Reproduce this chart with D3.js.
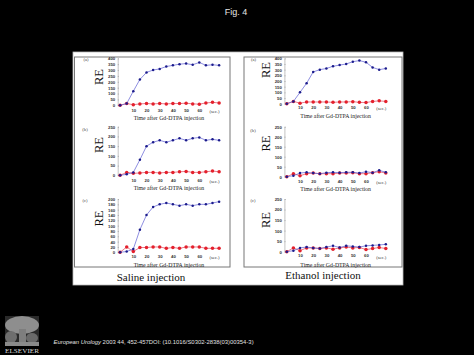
<!DOCTYPE html>
<html>
<head>
<meta charset="utf-8">
<script src="https://cdn.jsdelivr.net/npm/d3@7"></script>
<style>
  html, body { margin: 0; padding: 0; background: #000; }
  svg { display: block; }
</style>
</head>
<body>
<svg id="chart" width="474" height="355"></svg>
<script>
// ---------------- DATA ----------------
const timeSec = [0, 5, 10, 15, 20, 25, 30, 35, 40, 45, 50, 55, 60, 65, 70, 75];
const xTickLabels = [10, 20, 30, 40, 50, 60];
const ticks400 = [0, 50, 100, 150, 200, 250, 300, 350, 400];
const ticks250 = [0, 50, 100, 150, 200, 250];
const ticks200 = [0, 20, 40, 60, 80, 100, 120, 140, 160, 180, 200];
const panelTitles = ["Saline  injection", "Ethanol injection"];
const subplotLetters = ["(a)", "(b)", "(c)"];

// Saline injection
const salineA_blue = [0, 15, 120, 220, 280, 300, 310, 330, 340, 350, 355, 345, 365, 340, 345, 340];
const salineA_red  = [0, 15, 5, 12, 15, 12, 15, 12, 15, 15, 18, 12, 10, 20, 25, 20];
const salineB_blue = [0, 5, 15, 80, 150, 170, 180, 170, 180, 190, 180, 190, 195, 180, 185, 180];
const salineB_red  = [0, 15, 10, 12, 15, 15, 12, 15, 15, 18, 20, 15, 15, 18, 22, 18];
const salineC_blue = [0, 3, 12, 85, 140, 170, 180, 185, 180, 175, 180, 175, 180, 180, 185, 190];
const salineC_red  = [0, 20, 3, 18, 18, 20, 20, 15, 18, 15, 20, 20, 20, 15, 15, 15];
// Ethanol injection
const ethanolA_blue = [0, 20, 100, 180, 280, 300, 310, 330, 340, 350, 370, 380, 365, 320, 300, 310];
const ethanolA_red  = [0, 20, 5, 15, 15, 15, 15, 12, 15, 15, 18, 12, 10, 20, 25, 20];
const ethanolB_blue = [0, 5, 18, 22, 18, 15, 20, 22, 20, 22, 22, 18, 25, 20, 32, 22];
const ethanolB_red  = [0, 15, 5, 15, 18, 15, 15, 15, 18, 18, 20, 15, 15, 20, 25, 18];
const ethanolC_blue = [0, 5, 18, 22, 18, 15, 22, 28, 20, 28, 25, 22, 28, 30, 32, 35];
const ethanolC_red  = [0, 18, 5, 18, 18, 15, 18, 12, 18, 22, 18, 20, 10, 15, 20, 15];

// ---------------- LAYOUT ----------------
const svg = d3.select("#chart");
const serif = "'Liberation Serif', 'Times New Roman', serif";
const sans = "'Liberation Sans', Arial, sans-serif";

// title
svg.append("text").attr("x", 236).attr("y", 15).attr("text-anchor", "middle")
  .attr("fill", "#e6e6e6").attr("font-family", sans).attr("font-size", 9).text("Fig. 4");

// outer white figure box
svg.append("rect").attr("x", 73).attr("y", 52).attr("width", 330).attr("height", 233)
  .attr("fill", "#fff").attr("stroke", "#bbb").attr("stroke-width", 0.8);

// two panels
const panels = [
  { x: 74.5, w: 155.5 },
  { x: 244, w: 158 }
];
panels.forEach(p => {
  svg.append("rect").attr("x", p.x).attr("y", 57).attr("width", p.w).attr("height", 210)
    .attr("fill", "#fff").attr("stroke", "#777").attr("stroke-width", 1);
});
svg.append("text").attr("x", 151).attr("y", 281).attr("text-anchor", "middle")
  .attr("font-family", serif).attr("font-size", 11).attr("fill", "#111").text(panelTitles[0]);
svg.append("text").attr("x", 323).attr("y", 279).attr("text-anchor", "middle")
  .attr("font-family", serif).attr("font-size", 11).attr("fill", "#111").text(panelTitles[1]);

const subplots = [
  { x0: 120.1, y0: 105.3, yTop: 58.3, ticks: ticks400, blue: salineA_blue, red: salineA_red,
    xTickY: 112, xLabelY: 118, re: [98.5, 77], letter: [86, 60.5], li: 0 },
  { x0: 120.1, y0: 175.3, yTop: 126.7, ticks: ticks250, blue: salineB_blue, red: salineB_red,
    xTickY: 182, xLabelY: 188, re: [98.5, 145], letter: [85, 131], li: 1 },
  { x0: 120.1, y0: 252.3, yTop: 199, ticks: ticks200, blue: salineC_blue, red: salineC_red,
    xTickY: 258, xLabelY: 265, re: [98.5, 218.5], letter: [85, 202], li: 2 },
  { x0: 286.8, y0: 103.7, yTop: 58.3, ticks: ticks400, blue: ethanolA_blue, red: ethanolA_red,
    xTickY: 108.7, xLabelY: 116, re: [265.5, 70], letter: [253.5, 60.5], li: 0 },
  { x0: 286.8, y0: 176.7, yTop: 126.7, ticks: ticks250, blue: ethanolB_blue, red: ethanolB_red,
    xTickY: 182.7, xLabelY: 188.5, re: [265.5, 143.5], letter: [253, 132], li: 1 },
  { x0: 286.8, y0: 251.7, yTop: 199, ticks: ticks250, blue: ethanolC_blue, red: ethanolC_red,
    xTickY: 257.4, xLabelY: 264.5, re: [265.5, 220], letter: [253, 202], li: 2 }
];

const pxPerSec = 1.32;

subplots.forEach(sp => {
  const g = svg.append("g");
  const x = d3.scaleLinear().domain([0, 75]).range([sp.x0, sp.x0 + 75 * pxPerSec]);
  const yMax = d3.max(sp.ticks);
  const y = d3.scaleLinear().domain([0, yMax]).range([sp.y0, sp.yTop]);
  const axisX = sp.x0 - 2.4;

  // y axis
  const ya = g.append("g").attr("transform", `translate(${axisX},0)`)
    .call(d3.axisRight(y).tickValues(sp.ticks).tickSize(1.2).tickFormat(d3.format("d")));
  ya.select(".domain").attr("stroke", "#888").attr("stroke-width", 0.5);
  ya.selectAll(".tick line").attr("stroke", "#888").attr("stroke-width", 0.5);
  ya.selectAll(".tick text").attr("x", -2.5).attr("text-anchor", "end")
    .attr("font-family", sans).attr("font-weight", "bold").attr("font-size", 4.3).attr("fill", "#333");

  // x axis (labels only)
  const xa = g.append("g").attr("transform", `translate(0,${sp.xTickY - 3})`)
    .call(d3.axisBottom(x).tickValues(xTickLabels).tickSize(0).tickPadding(0));
  xa.select(".domain").remove();
  xa.selectAll(".tick text").attr("font-family", sans).attr("font-weight", "bold")
    .attr("font-size", 4.3).attr("fill", "#333");
  g.append("text").attr("x", x(71.5)).attr("y", sp.xTickY + 1.3).attr("text-anchor", "middle")
    .attr("font-family", serif).attr("font-size", 4.6).attr("fill", "#333").text("(sec.)");

  // axis label
  g.append("text").attr("x", x(37)).attr("y", sp.xLabelY + 2).attr("text-anchor", "middle")
    .attr("font-family", serif).attr("font-size", 5.8).attr("fill", "#222")
    .text("Time after  Gd-DTPA injection");
  g.append("text").attr("transform", `translate(${sp.re[0] + 4},${sp.re[1]}) rotate(-90)`)
    .attr("text-anchor", "middle").attr("font-family", serif).attr("font-size", 12.5)
    .attr("fill", "#111").text("RE");
  g.append("text").attr("x", sp.letter[0]).attr("y", sp.letter[1]).attr("text-anchor", "middle")
    .attr("font-family", serif).attr("font-size", 4.6).attr("fill", "#444").text(subplotLetters[sp.li]);

  const line = d3.line().x((d, i) => x(timeSec[i])).y(d => y(d));

  // red series
  g.append("path").datum(sp.red).attr("d", line).attr("fill", "none")
    .attr("stroke", "#e25a70").attr("stroke-width", 0.8);
  g.selectAll(".rdot").data(sp.red).enter().append("circle")
    .attr("cx", (d, i) => x(timeSec[i])).attr("cy", d => y(d)).attr("r", 1.75)
    .attr("fill", "#e4202c");

  // blue series
  g.append("path").datum(sp.blue).attr("d", line).attr("fill", "none")
    .attr("stroke", "#5e5ed4").attr("stroke-width", 0.7);
  g.selectAll(".bdot").data(sp.blue).enter().append("circle")
    .attr("cx", (d, i) => x(timeSec[i])).attr("cy", d => y(d)).attr("r", 1.25)
    .attr("fill", "#1c1c8c");
});

// ---------------- FOOTER ----------------
// Elsevier logo (simplified tree)
const logo = svg.append("g");
logo.append("rect").attr("x", 5).attr("y", 316).attr("width", 34).attr("height", 30).attr("fill", "#2a2a2a");
logo.append("ellipse").attr("cx", 22).attr("cy", 325).attr("rx", 17).attr("ry", 9).attr("fill", "#8e8e8e");
logo.append("rect").attr("x", 19).attr("y", 329).attr("width", 7).attr("height", 14).attr("fill", "#7e7e7e");
logo.append("ellipse").attr("cx", 11).attr("cy", 337).attr("rx", 6).attr("ry", 6).attr("fill", "#6e6e6e");
logo.append("ellipse").attr("cx", 32).attr("cy", 338).attr("rx", 6).attr("ry", 5).attr("fill", "#6a6a6a");
logo.append("rect").attr("x", 5).attr("y", 342).attr("width", 34).attr("height", 4).attr("fill", "#8a8a8a");
logo.append("text").attr("x", 5).attr("y", 353).attr("textLength", 34).attr("lengthAdjust", "spacingAndGlyphs")
  .attr("font-family", serif).attr("font-size", 6.5).attr("fill", "#ddd").text("ELSEVIER");

const cap = svg.append("text").attr("x", 53.5).attr("y", 343.5).attr("font-family", sans)
  .attr("font-size", 5.9).attr("fill", "#e0e0e0");
cap.append("tspan").attr("font-style", "italic").text("European Urology");
cap.append("tspan").text(" 2003 44, 452-457DOI: (10.1016/S0302-2838(03)00354-3)");
</script>
</body>
</html>
